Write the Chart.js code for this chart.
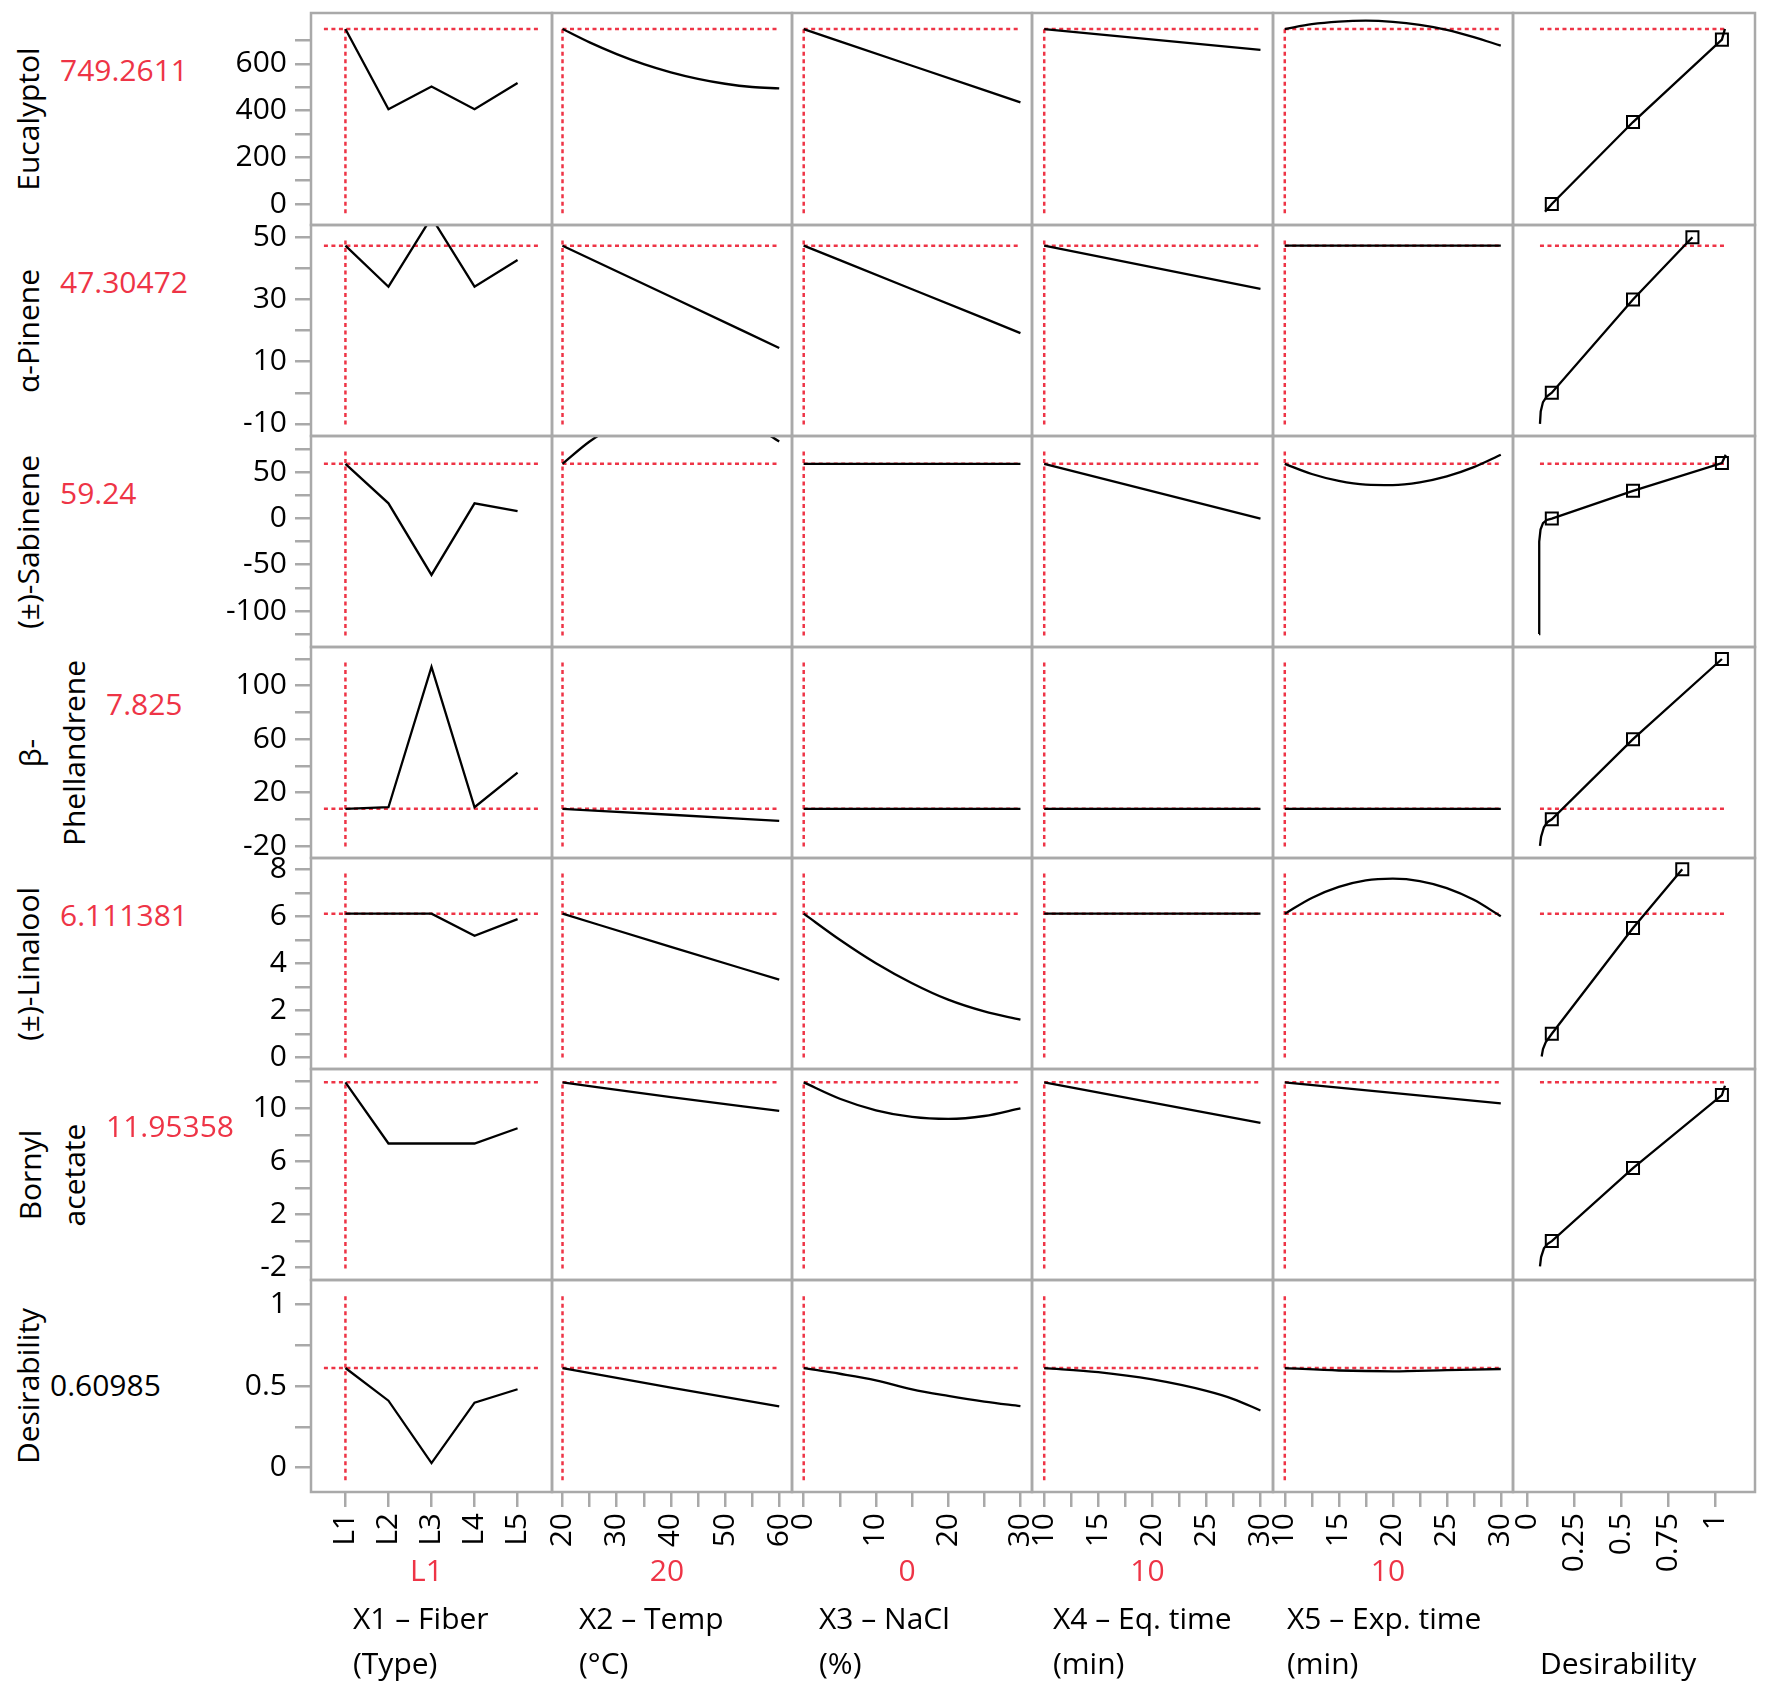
<!DOCTYPE html>
<html>
<head>
<meta charset="utf-8">
<title>Prediction Profiler</title>
<script src="https://cdn.jsdelivr.net/npm/chart.js@4"></script>
<style>
  body { margin: 0; background: #fff; font-family: "Open Sans", sans-serif; }
  #wrap { position: relative; width: 1767px; height: 1697px; overflow: hidden; }
  #wrap canvas { position: absolute; }
  .txt { position: absolute; font-size: 30px; white-space: pre; color: #000; }
  .red { color: #ee3446; }
</style>
</head>
<body>
<div id="wrap"></div>
<script>
// responses (rows)
const responses = ["Eucalyptol", "α-Pinene", "(±)-Sabinene", "β-\nPhellandrene", "(±)-Linalool", "Bornyl\nacetate", "Desirability"];
const predicted = [749.2611, 47.30472, 59.24, 7.825, 6.111381, 11.95358, 0.60985];
const predictedText = ["749.2611", "47.30472", "59.24", "7.825", "6.111381", "11.95358", "0.60985"];
const yMin = [-90, -13.9, -139, -29, -0.5, -2.93, -0.149];
const yMax = [818, 53.95, 89.3, 129, 8.48, 12.96, 1.149];
const yTicks = [
  [0, 100, 200, 300, 400, 500, 600, 700],
  [-10, 0, 10, 20, 30, 40, 50],
  [-125, -100, -75, -50, -25, 0, 25, 50, 75],
  [-20, 0, 20, 40, 60, 80, 100, 120],
  [0, 1, 2, 3, 4, 5, 6, 7, 8],
  [-2, 0, 2, 4, 6, 8, 10, 12],
  [0, 0.25, 0.5, 0.75, 1]
];
const yTickLabels = [
  [0, 200, 400, 600],
  [-10, 10, 30, 50],
  [-100, -50, 0, 50],
  [-20, 20, 60, 100],
  [0, 2, 4, 6, 8],
  [-2, 2, 6, 10],
  [0, 0.5, 1]
];

// factors (columns)
const factorNames = ["X1 – Fiber\n(Type)", "X2 – Temp\n(°C)", "X3 – NaCl\n(%)", "X4 – Eq. time\n(min)", "X5 – Exp. time\n(min)", "\nDesirability"];
const settingText = ["L1", "20", "0", "10", "10"];
const settingX = [1, 20, 0, 10, 10];
const fiberTypes = ["L1", "L2", "L3", "L4", "L5"];
const xMin = [0.2, 18.06, -1.62, 8.87, 8.91, -0.0745];
const xMax = [5.8, 62.36, 31.6, 31.16, 31.13, 1.213];
const xTicks = [
  [1, 2, 3, 4, 5],
  [20, 25, 30, 35, 40, 45, 50, 55, 60],
  [0, 5, 10, 15, 20, 25, 30],
  [10, 12.5, 15, 17.5, 20, 22.5, 25, 27.5, 30],
  [10, 12.5, 15, 17.5, 20, 22.5, 25, 27.5, 30],
  [0, 0.25, 0.5, 0.75, 1]
];
const xTickLabels = [
  [1, 2, 3, 4, 5],
  [20, 30, 40, 50, 60],
  [0, 10, 20, 30],
  [10, 15, 20, 25, 30],
  [10, 15, 20, 25, 30],
  [0, 0.25, 0.5, 0.75, 1]
];
const refSpanX = [[0.5, 5.5], [20, 60], [0, 30], [10, 30], [10, 30], [0.069, 1.062]];

// profile traces, one list per row
const fiberProfiles = [
  [749.26, 406, 503, 406, 518],
  [47.3, 34.1, 56.4, 34.1, 42.7],
  [59.24, 16.5, -61, 16.5, 8],
  [7.8, 9, 114, 9, 35],
  [6.11, 6.11, 6.11, 5.17, 5.88],
  [11.95, 7.35, 7.35, 7.35, 8.5],
  [0.61, 0.41, 0.028, 0.398, 0.48]
];
const tempProfiles = [
  [[20, 749.3], [25, 692], [30, 642], [35, 599], [40, 564], [45, 536], [50, 515], [55, 501], [60, 495]],
  [[20, 47.3], [40, 30.9], [60, 14.4]],
  [[20, 59.2], [25, 83.3], [30, 101.3], [35, 113.4], [40, 119.4], [45, 119.4], [50, 113.4], [55, 101.4], [60, 83.4]],
  [[20, 7.8], [40, 3.4], [60, -1.2]],
  [[20, 6.11], [40, 4.7], [60, 3.3]],
  [[20, 11.95], [40, 10.85], [60, 9.8]],
  [[20, 0.61], [40, 0.49], [60, 0.375]]
];
const naclProfiles = [
  [[0, 749.3], [15, 592], [30, 435]],
  [[0, 47.3], [15, 33.3], [30, 19.2]],
  [[0, 59.24], [30, 59.24]],
  [[0, 7.825], [30, 7.825]],
  [[0, 6.11], [5, 5.0], [10, 4.0], [15, 3.15], [20, 2.45], [25, 1.95], [30, 1.6]],
  [[0, 11.95], [5, 10.72], [10, 9.85], [15, 9.35], [20, 9.2], [25, 9.42], [30, 10.0]],
  [[0, 0.61], [5, 0.575], [10, 0.535], [15, 0.48], [20, 0.44], [25, 0.405], [30, 0.377]]
];
const eqProfiles = [
  [[10, 749.3], [30, 660]],
  [[10, 47.3], [30, 33.4]],
  [[10, 59.24], [30, 0]],
  [[10, 7.825], [30, 7.825]],
  [[10, 6.11], [30, 6.11]],
  [[10, 11.95], [30, 8.9]],
  [[10, 0.61], [15, 0.585], [20, 0.54], [25, 0.47], [27.5, 0.42], [30, 0.35]]
];
const expProfiles = [
  [[10, 749.3], [12.5, 770], [15, 781], [17.5, 785], [20, 780], [22.5, 767], [25, 746], [27.5, 715], [30, 678]],
  [[10, 47.3], [30, 47.3]],
  [[10, 59.2], [12.5, 48.2], [15, 40.7], [17.5, 36.7], [20, 36.2], [22.5, 39.2], [25, 45.6], [27.5, 55.6], [30, 69]],
  [[10, 7.825], [30, 7.825]],
  [[10, 6.11], [12.5, 6.78], [15, 7.25], [17.5, 7.53], [20, 7.6], [22.5, 7.5], [25, 7.2], [27.5, 6.7], [30, 6.0]],
  [[10, 11.95], [30, 10.37]],
  [[10, 0.61], [15, 0.595], [20, 0.59], [25, 0.597], [30, 0.604]]
];
const desirCurves = [
  [[0.096, -33], [0.132, 0], [0.564, 351], [1.037, 704], [1.053, 750]],
  [[0.069, -10], [0.073, -6], [0.085, -3], [0.105, -1.2], [0.132, 0], [0.564, 30], [0.88, 50]],
  [[0.064, -125], [0.064, -60], [0.066, -25], [0.072, -12], [0.085, -5], [0.105, -1.5], [0.132, 0], [0.564, 30], [1.037, 60], [1.057, 69]],
  [[0.069, -20], [0.075, -13], [0.09, -6], [0.11, -2], [0.132, 0], [0.564, 60], [1.037, 120]],
  [[0.078, 0.03], [0.085, 0.35], [0.1, 0.65], [0.132, 1], [0.564, 5.5], [0.826, 8]],
  [[0.069, -1.9], [0.075, -1.2], [0.09, -0.55], [0.11, -0.2], [0.132, 0], [0.564, 5.5], [1.037, 11], [1.053, 11.7]]
];
const desirPoints = [
  [[0.132, 0], [0.564, 351], [1.037, 704]],
  [[0.132, 0], [0.564, 30], [0.88, 50]],
  [[0.132, 0], [0.564, 30], [1.037, 60]],
  [[0.132, 0], [0.564, 60], [1.037, 120]],
  [[0.132, 1], [0.564, 5.5], [0.826, 8]],
  [[0.132, 0], [0.564, 5.5], [1.037, 11]]
];

// layout
const colX = [311, 552, 792, 1032, 1273, 1513, 1755];
const rowY = [13, 225, 436, 647, 858, 1069, 1280, 1492];
const PAD = 50, AXIS_W = 120, AXIS_H = 120;
const GRAY = "#a9a9a9", RED = "#ee3446";

Chart.defaults.font.family = "'Open Sans', sans-serif";
Chart.defaults.font.size = 30;
Chart.defaults.color = "#000";

const wrap = document.getElementById("wrap");

const framePlugin = {
  id: "frame",
  afterDatasetsDraw(chart) {
    const a = chart.chartArea, ctx = chart.ctx;
    ctx.save();
    ctx.strokeStyle = GRAY;
    ctx.lineWidth = 2.5;
    ctx.strokeRect(a.left, a.top, a.right - a.left, a.bottom - a.top);
    ctx.restore();
  }
};

function pts(list) {
  return list.map(p => ({ x: p[0], y: p[1] }));
}

function profileFor(r, c) {
  if (c === 0) return fiberProfiles[r].map((y, i) => [i + 1, y]);
  return [null, tempProfiles, naclProfiles, eqProfiles, expProfiles][c][r];
}

function makePanel(r, c) {
  const padL = c === 0 ? AXIS_W : PAD;
  const padB = r === 6 ? AXIS_H : PAD;
  const w = colX[c + 1] - colX[c], h = rowY[r + 1] - rowY[r];
  const canvas = document.createElement("canvas");
  canvas.width = w + padL + PAD;
  canvas.height = h + PAD + padB;
  canvas.style.left = (colX[c] - padL) + "px";
  canvas.style.top = (rowY[r] - PAD) + "px";
  wrap.appendChild(canvas);

  const span = yMax[r] - yMin[r];
  const vLo = yMin[r] + 0.055 * span, vHi = yMax[r] - 0.065 * span;
  const datasets = [];

  if (c < 5) {
    const curve = { data: pts(profileFor(r, c)), borderColor: "#000", borderWidth: 2.3 };
    if (c > 0) curve.cubicInterpolationMode = "monotone";
    datasets.push(curve);
    datasets.push({ data: pts([[refSpanX[c][0], predicted[r]], [refSpanX[c][1], predicted[r]]]),
      borderColor: RED, borderWidth: 2.5, borderDash: [4, 3.5] });
    datasets.push({ data: pts([[settingX[c], vLo], [settingX[c], vHi]]),
      borderColor: RED, borderWidth: 2.5, borderDash: [4, 3.5] });
  } else if (r < 6) {
    datasets.push({ data: pts(desirCurves[r]), borderColor: "#000", borderWidth: 2.3 });
    datasets.push({ data: pts(desirPoints[r]), showLine: false, pointStyle: "rect", pointRadius: 8.5,
      pointBorderColor: "#000", pointBackgroundColor: "rgba(0,0,0,0)", pointBorderWidth: 2 });
    datasets.push({ data: pts([[refSpanX[c][0], predicted[r]], [refSpanX[c][1], predicted[r]]]),
      borderColor: RED, borderWidth: 2.5, borderDash: [4, 3.5] });
  }
  datasets.forEach(d => {
    if (d.showLine === undefined) { d.showLine = true; d.pointRadius = 0; }
  });

  const xScale = {
    type: "linear", min: xMin[c], max: xMax[c], display: r === 6,
    grid: { drawOnChartArea: false, color: GRAY, lineWidth: 2.5, tickLength: 15 },
    border: { display: false },
    ticks: {
      autoSkip: false, minRotation: 90, maxRotation: 90, padding: 6,
      callback: v => xTickLabels[c].includes(v) ? (c === 0 ? fiberTypes[v - 1] : String(v)) : ""
    },
    afterBuildTicks: s => { s.ticks = xTicks[c].map(v => ({ value: v })); }
  };
  if (r === 6) xScale.afterFit = s => { s.height = AXIS_H; };

  const yScale = {
    type: "linear", min: yMin[r], max: yMax[r], display: c === 0,
    grid: { drawOnChartArea: false, color: GRAY, lineWidth: 2.5, tickLength: 16 },
    border: { display: false },
    ticks: {
      autoSkip: false, padding: 8,
      callback: v => yTickLabels[r].includes(v) ? String(v) : ""
    },
    afterBuildTicks: s => { s.ticks = yTicks[r].map(v => ({ value: v })); }
  };
  if (c === 0) yScale.afterFit = s => { s.width = AXIS_W; };

  new Chart(canvas, {
    type: "scatter",
    data: { datasets: datasets },
    options: {
      responsive: false,
      animation: false,
      layout: { padding: { left: c === 0 ? 0 : PAD, right: PAD, top: PAD, bottom: r === 6 ? 0 : PAD } },
      plugins: { legend: { display: false }, tooltip: { enabled: false } },
      scales: { x: xScale, y: yScale }
    },
    plugins: [framePlugin]
  });
}

for (let r = 0; r < 7; r++) {
  for (let c = 0; c < 6; c++) makePanel(r, c);
}

// TEXT
function addText(str, style, cls) {
  const d = document.createElement("div");
  d.className = "txt" + (cls ? " " + cls : "");
  d.textContent = str;
  Object.assign(d.style, style);
  wrap.appendChild(d);
  return d;
}

responses.forEach((name, r) => {
  const cy = (rowY[r] + rowY[r + 1]) / 2;
  const twoLines = name.includes("\n");
  addText(name, {
    left: (twoLines ? 52 : 28) + "px", top: cy + "px", lineHeight: "44px", textAlign: "center",
    transform: "translate(-50%, -50%) rotate(-90deg)"
  });
  const vx = r === 6 ? 50 : (twoLines ? 106 : 60);
  const vy = r === 6 ? cy - 2 : cy - 50;
  addText(predictedText[r], { left: vx + "px", top: vy + "px", transform: "translateY(-50%)" }, r === 6 ? "" : "red");
});

const nameOffset = [42, 27, 27, 21, 14, 27];
factorNames.forEach((name, c) => {
  if (c < 5) {
    const cx = (colX[c] + colX[c + 1]) / 2 - 5;
    addText(settingText[c], { left: cx + "px", top: "1569px", transform: "translate(-50%, -50%)" }, "red");
  }
  addText(name, { left: (colX[c] + nameOffset[c]) + "px", top: "1595px", lineHeight: "45px" });
});
</script>
</body>
</html>
